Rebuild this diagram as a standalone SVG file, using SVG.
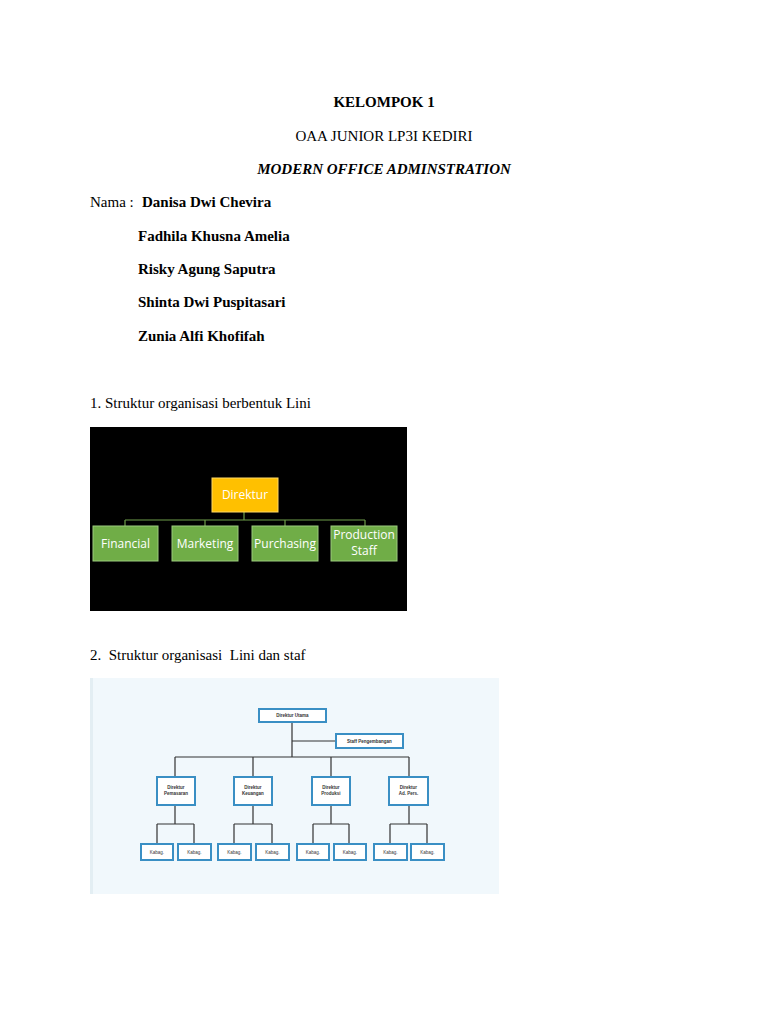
<svg xmlns="http://www.w3.org/2000/svg" width="768" height="1024" viewBox="0 0 768 1024">
<style>
.t{font-family:"Liberation Serif",serif;font-size:15px;fill:#000}
.b{font-weight:bold}
.g{fill:#70AD47;stroke:#9CCB7E;stroke-width:1}
.gt{font-family:"Open Sans","Liberation Sans",sans-serif;font-size:12px;fill:#fff;text-anchor:middle}
.bx{fill:#fff;stroke:#3A8FC4;stroke-width:2}
.st{font-family:"Liberation Sans",sans-serif;font-size:4.5px;font-weight:bold;fill:#333;text-anchor:middle}
.sk{font-family:"Liberation Sans",sans-serif;font-size:4.5px;fill:#333;text-anchor:middle}
</style>
<rect width="768" height="1024" fill="#fff"/>
<text class="t b" x="384" y="107" text-anchor="middle">KELOMPOK 1</text>
<text class="t" x="384" y="141" text-anchor="middle">OAA JUNIOR LP3I KEDIRI</text>
<text class="t b" x="384" y="174" text-anchor="middle" font-style="italic">MODERN OFFICE ADMINSTRATION</text>
<text class="t" x="90" y="207">Nama : </text>
<text class="t b" x="142" y="207">Danisa Dwi Chevira</text>
<text class="t b" x="138" y="241">Fadhila Khusna Amelia</text>
<text class="t b" x="138" y="274">Risky Agung Saputra</text>
<text class="t b" x="138" y="307">Shinta Dwi Puspitasari</text>
<text class="t b" x="138" y="341">Zunia Alfi Khofifah</text>
<text class="t" x="90" y="408">1. Struktur organisasi berbentuk Lini</text>
<text class="t" x="90" y="660" xml:space="preserve">2.  Struktur organisasi  Lini dan staf</text>

<rect x="90" y="427" width="317" height="184" fill="#000"/>
<g id="connectors1" stroke="#6E9E4A" stroke-width="1.2" fill="none">
<path d="M244 512V520M125 520H365M125 520V526M205 520V526M285 520V526M365 520V526"/>
</g>
<g id="direktur"><rect x="212" y="478" width="66" height="34" fill="#FFC000" stroke="#FFD966"/><text class="gt" x="245" y="499">Direktur</text></g>
<g id="financial"><rect class="g" x="93" y="526" width="65" height="35"/><text class="gt" x="125.5" y="548">Financial</text></g>
<g id="marketing"><rect class="g" x="172" y="526" width="66" height="35"/><text class="gt" x="205" y="548">Marketing</text></g>
<g id="purchasing"><rect class="g" x="252" y="526" width="66" height="35"/><text class="gt" x="285" y="548">Purchasing</text></g>
<g id="production"><rect class="g" x="331" y="526" width="66" height="35"/><text class="gt" x="364" y="539">Production</text><text class="gt" x="364" y="555">Staff</text></g>

<rect x="90" y="678" width="409" height="216" fill="#F1F8FC"/>
<rect x="90" y="678" width="3" height="216" fill="#E3EEF3"/>
<g id="connectors2" stroke="#333" stroke-width="1.2" fill="none">
<path d="M292 722V757M292 741H336M175 757H409M175 757V777M253 757V777M331 757V777M409 757V777"/>
<path d="M175 805V824M157 824H194M157 824V844M194 824V844"/>
<path d="M253 805V824M234 824H272M234 824V844M272 824V844"/>
<path d="M331 805V824M313 824H349M313 824V844M349 824V844"/>
<path d="M409 805V824M390 824H427M390 824V844M427 824V844"/>
</g>
<g id="utama"><rect class="bx" x="259" y="709" width="67" height="13"/><text class="st" x="292.5" y="717">Direktur Utama</text></g>
<g id="staff"><rect class="bx" x="336" y="734" width="67" height="14"/><text class="st" x="369.5" y="743">Staff Pengembangan</text></g>
<g id="pemasaran"><rect class="bx" x="157" y="777" width="38" height="28"/><text class="st" x="176" y="789">Direktur</text><text class="st" x="176" y="795">Pemasaran</text></g>
<g id="keuangan"><rect class="bx" x="234" y="777" width="38" height="28"/><text class="st" x="253" y="789">Direktur</text><text class="st" x="253" y="795">Keuangan</text></g>
<g id="produksi"><rect class="bx" x="312" y="777" width="38" height="28"/><text class="st" x="331" y="789">Direktur</text><text class="st" x="331" y="795">Produksi</text></g>
<g id="adpers"><rect class="bx" x="389" y="777" width="39" height="28"/><text class="st" x="408.5" y="789">Direktur</text><text class="st" x="408.5" y="795">Ad. Pers.</text></g>
<g id="k1"><rect class="bx" x="141" y="844" width="32" height="16"/><text class="sk" x="157" y="854">Kabag.</text></g>
<g id="k2"><rect class="bx" x="178" y="844" width="33" height="16"/><text class="sk" x="194.5" y="854">Kabag.</text></g>
<g id="k3"><rect class="bx" x="218" y="844" width="33" height="16"/><text class="sk" x="234.5" y="854">Kabag.</text></g>
<g id="k4"><rect class="bx" x="256" y="844" width="33" height="16"/><text class="sk" x="272.5" y="854">Kabag.</text></g>
<g id="k5"><rect class="bx" x="297" y="844" width="32" height="16"/><text class="sk" x="313" y="854">Kabag.</text></g>
<g id="k6"><rect class="bx" x="334" y="844" width="32" height="16"/><text class="sk" x="350" y="854">Kabag.</text></g>
<g id="k7"><rect class="bx" x="374" y="844" width="33" height="16"/><text class="sk" x="390.5" y="854">Kabag.</text></g>
<g id="k8"><rect class="bx" x="411" y="844" width="33" height="16"/><text class="sk" x="427.5" y="854">Kabag.</text></g>
</svg>
